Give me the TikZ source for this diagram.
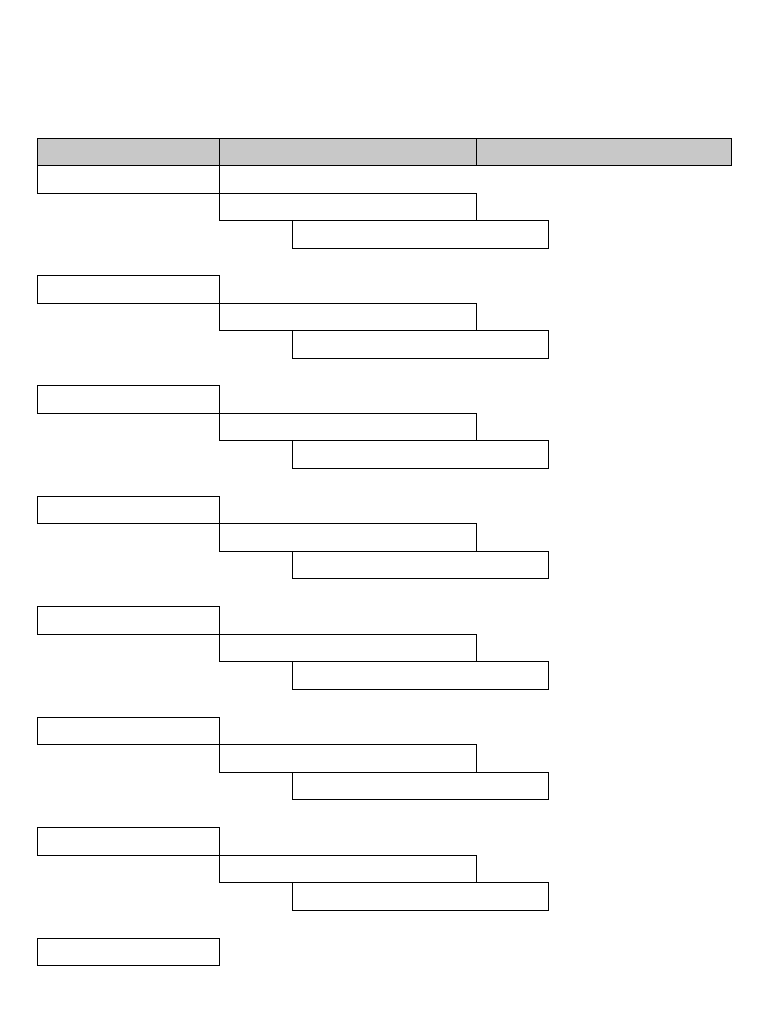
\documentclass[tikz,border=0pt]{standalone}
\begin{document}
\begin{tikzpicture}[x=1pt,y=-1pt,
  cell/.style={draw=black,line width=1pt,rectangle,inner sep=0pt,outer sep=0pt,anchor=north west,minimum height=27.5pt},
  head/.style={cell,fill=headgrey},
  wa/.style={minimum width=182pt},
  wb/.style={minimum width=257pt},
  wc/.style={minimum width=255pt},
  wd/.style={minimum width=256pt}]
\definecolor{headgrey}{RGB}{200,200,200}
\useasboundingbox (0,0) rectangle (768,1024);
\node[head,wa] (h1) at (37,138.5) {};
\node[head,wb] (h2) at (219,138.5) {};
\node[head,wc] (h3) at (476,138.5) {};
\foreach \t [count=\i] in {166,275.5,385.5,496,606.5,717,827.5} {
  \node[cell,wa] (a\i) at (37,\t) {};
  \node[cell,wb] (b\i) at (219,\t+27.5) {};
  \node[cell,wd] (c\i) at (292,\t+55) {};
}
\node[cell,wa] (a8) at (37,938) {};
\end{tikzpicture}
\end{document}
